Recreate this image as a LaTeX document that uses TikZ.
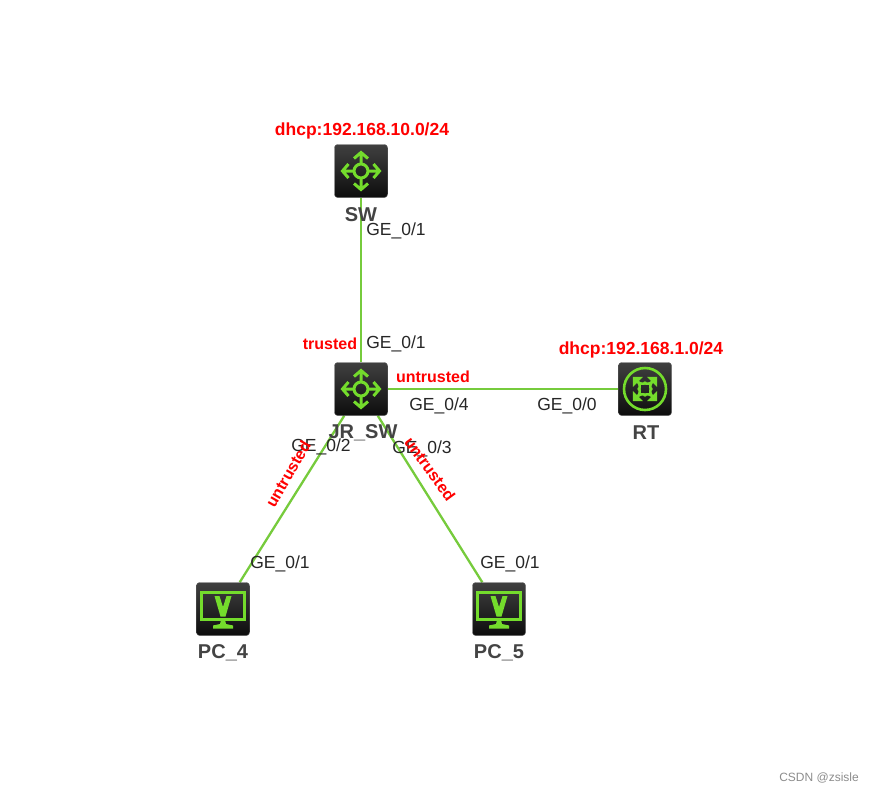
\documentclass[tikz,border=0pt]{standalone}
\usepackage{fontspec}
\setmainfont{Liberation Sans}
\usetikzlibrary{backgrounds}
\tikzset{>=stealth}
\definecolor{linkgreen}{HTML}{76CB3C}
\definecolor{iconlime}{HTML}{74DC2C}
\definecolor{namegrey}{HTML}{444444}
\tikzset{
    devbox/.style={minimum size=53pt, inner sep=0pt, rounded corners=3pt, top color=black!75, bottom color=black!95, draw=black!60, line width=0.4pt},
    link/.style={draw=linkgreen, line width=2.3pt},
    devname/.style={font=\fontsize{20}{20}\selectfont\bfseries, text=namegrey, inner sep=0pt},
    portlabel/.style={font=\fontsize{17.5}{18}\selectfont, text=black!85, inner sep=0pt},
    netlabel/.style={font=\fontsize{17.5}{18}\selectfont\bfseries, text=red, inner sep=0pt},
    trustlabel/.style={font=\fontsize{16}{16}\selectfont\bfseries, text=red, inner sep=0pt},
    swicon/.pic={
        \draw[iconlime, line width=3pt] (0,0) circle (7);
        \foreach \a in {0,90,180,270} {
            \draw[iconlime, line width=3pt, rotate=\a] (7,0) -- (17,0) (12.5,-7) -- (18.5,0) -- (12.5,7);
        }
    },
    rticon/.pic={
        \draw[iconlime, line width=2.6pt] (0,0) circle (21);
        \foreach \a in {45,135,225,315} {
            \draw[iconlime, line width=2.6pt, rotate=\a] (11,0) .. controls (7,0) and (5,1.5) .. (3.5,5.5) (11,0) .. controls (7,0) and (5,-1.5) .. (3.5,-5.5);
            \fill[iconlime, rotate=\a] (17,0) -- (10,-7) -- (10,7) -- cycle;
        }
    },
    pcicon/.pic={
        \draw[iconlime, line width=3pt] (-21.5,-17) rectangle (21.5,10);
        \fill[iconlime] (-8.5,-13) -- (-3.5,-13) -- (0,-2) -- (3.5,-13) -- (8.5,-13) -- (2.5,7.5) -- (-2.5,7.5) -- cycle;
        \fill[iconlime] (-2,11) -- (2,11) -- (3,15) -- (10,16.5) -- (10,19.5) -- (-10,19.5) -- (-10,16.5) -- (-3,15) -- cycle;
    },
}

\begin{document}
\begin{tikzpicture}[x=1pt, y=-1pt]
    \useasboundingbox (0,0) rectangle (869,793);
    % devices
    \node[devbox] (SW) at (361,171) {};
    \node[devbox] (JRSW) at (361,389) {};
    \node[devbox] (RT) at (645,389) {};
    \node[devbox] (PCfour) at (223,609) {};
    \node[devbox] (PCfive) at (499,609) {};
    \pic at (SW) {swicon};
    \pic at (JRSW) {swicon};
    \pic at (RT) {rticon};
    \pic at (PCfour) {pcicon};
    \pic at (PCfive) {pcicon};
    % links
    \begin{scope}[on background layer]
        \draw[link] (SW) -- (JRSW);
        \draw[link] (JRSW) -- (RT);
        \draw[link] (JRSW) -- (PCfour);
        \draw[link] (JRSW) -- (PCfive);
    \end{scope}
    % names
    \node[devname] (SWname) at (361,215) {SW};
    \node[devname] (JRname) at (363,433) {JR\_SW};
    \node[devname] (RTname) at (646,433) {RT};
    \node[devname] (PCfourname) at (223,653) {PC\_4};
    \node[devname] (PCfivename) at (499,653) {PC\_5};
    % ports
    \node[portlabel] (swport) at (396,231) {GE\_0/1};
    \node[portlabel] (jrup) at (396,344) {GE\_0/1};
    \node[portlabel] (jrright) at (439,406) {GE\_0/4};
    \node[portlabel] (rtport) at (567,406) {GE\_0/0};
    \node[portlabel] (jrleft) at (321,447) {GE\_0/2};
    \node[portlabel] (jrdown) at (422,449) {GE\_0/3};
    \node[portlabel] (pcfourport) at (280,564) {GE\_0/1};
    \node[portlabel] (pcfiveport) at (510,564) {GE\_0/1};
    % notes
    \node[netlabel] (swnet) at (362,131) {dhcp:192.168.10.0/24};
    \node[netlabel] (rtnet) at (641,350) {dhcp:192.168.1.0/24};
    \node[trustlabel] (trustup) at (330,344) {trusted};
    \node[trustlabel] (trustright) at (433,377) {untrusted};
    \node[trustlabel, rotate=60] (trustleft) at (288,474) {untrusted};
    \node[trustlabel, rotate=-54] (trustdown) at (430,469) {untrusted};
    \node[font=\fontsize{12}{12}\selectfont, text=black!45, inner sep=0pt] (mark) at (819,778) {CSDN @zsisle};
\end{tikzpicture}
\end{document}
